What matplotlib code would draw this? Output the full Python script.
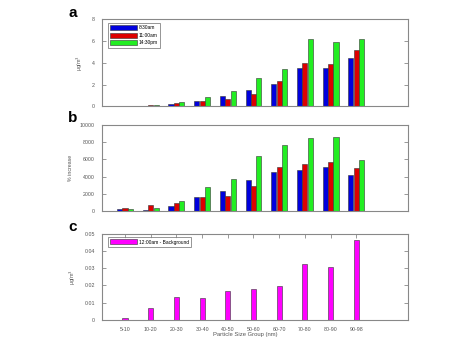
import numpy as np
import matplotlib
matplotlib.use("Agg")
import matplotlib.pyplot as plt

plt.rcParams['font.family'] = ['Liberation Sans', 'DejaVu Sans']

groups = ["5-10", "10-20", "20-30", "30-40", "40-50",
          "50-60", "60-70", "70-80", "80-90", "90-98"]
times = ["8:30am", "11:00am", "14:30pm"]

# panel a, ug/m3
conc_830 = [0.03, 0.07, 0.21, 0.52, 0.95, 1.50, 2.08, 3.48, 3.54, 4.40]
conc_1100 = [0.05, 0.13, 0.31, 0.52, 0.70, 1.16, 2.32, 3.97, 3.88, 5.13]
conc_1430 = [0.04, 0.10, 0.40, 0.85, 1.44, 2.56, 3.45, 6.14, 5.86, 6.17]

# panel b, % increase
inc_830 = [190, 150, 580, 1650, 2380, 3650, 4540, 4730, 5120, 4230]
inc_1100 = [350, 700, 960, 1650, 1770, 2880, 5080, 5420, 5690, 4960]
inc_1430 = [230, 420, 1120, 2850, 3680, 6350, 7690, 8420, 8580, 5960]

# panel c, background
background = [0.001, 0.0069, 0.0133, 0.0127, 0.017, 0.018, 0.0199, 0.0326, 0.0305, 0.046]

colors = ["#0000dd", "#dd0000", "#22ee22"]
x = np.arange(1, len(groups) + 1)
bw = 0.2
gray = "#555555"

fig = plt.figure(figsize=(4.74, 3.40), dpi=100)
ax_a = fig.add_axes([0.215, 0.687, 0.645, 0.257])
ax_b = fig.add_axes([0.215, 0.379, 0.645, 0.254])
ax_c = fig.add_axes([0.215, 0.059, 0.645, 0.254])


def style(ax):
    for s in ax.spines.values():
        s.set_color("#888888")
        s.set_linewidth(0.8)
    ax.tick_params(axis='y', direction='in', length=3, width=0.6, colors="#888888",
                   labelcolor=gray, labelsize=3.8, right=True, pad=5)
    ax.set_xlim(0.1, 12.0)


def legend(ax, width):
    leg = ax.legend(loc='upper left', fontsize=3.5, frameon=True, fancybox=False,
                    handlelength=width, handleheight=1.2, handletextpad=0.3,
                    borderpad=0.5, labelspacing=0.5, borderaxespad=0,
                    bbox_to_anchor=(0.02, 0.96))
    leg.get_frame().set_edgecolor("#666666")
    leg.get_frame().set_linewidth(0.6)


for ax, series, ylim, yticks, ylab in [
        (ax_a, [conc_830, conc_1100, conc_1430], 8, [0, 2, 4, 6, 8], "μg/m$^3$"),
        (ax_b, [inc_830, inc_1100, inc_1430], 10000, [0, 2000, 4000, 6000, 8000, 10000], "% increase")]:
    for i, (vals, c) in enumerate(zip(series, colors)):
        ax.bar(x + (i - 1) * 0.21, vals, width=bw, color=c, edgecolor="#333333",
               linewidth=0.4, label=times[i])
    style(ax)
    ax.set_ylim(0, ylim)
    ax.set_yticks(yticks)
    ax.set_xticks([])
    ax.set_ylabel(ylab, fontsize=3.8, color=gray, labelpad=5)

legend(ax_a, 5.5)

ax_c.bar(x, background, width=bw, color="#ff00ff", edgecolor="#333333",
         linewidth=0.4, label="12:00am - Background")
style(ax_c)
ax_c.set_ylim(0, 0.05)
ax_c.set_yticks([0, 0.01, 0.02, 0.03, 0.04, 0.05])
ax_c.set_yticklabels(["0", "0.01", "0.02", "0.03", "0.04", "0.05"])
ax_c.set_xticks(x)
ax_c.set_xticklabels(groups)
ax_c.tick_params(axis='x', bottom=False, top=True, direction='in', length=3,
                 width=0.6, colors="#888888", labelcolor=gray, labelsize=3.8, pad=5)
ax_c.set_ylabel("μg/m$^3$", fontsize=3.8, color=gray, labelpad=5)
ax_c.set_xlabel("Particle Size Group (nm)", fontsize=4.2, color=gray)
ax_c.xaxis.set_label_coords(0.47, -0.14)
legend(ax_c, 5.5)

for lab, yy in [("a", 0.962), ("b", 0.652), ("c", 0.332)]:
    fig.text(0.153, yy, lab, fontsize=11, fontweight='bold', ha='center', va='center')

fig.savefig("out.png", dpi=100)
